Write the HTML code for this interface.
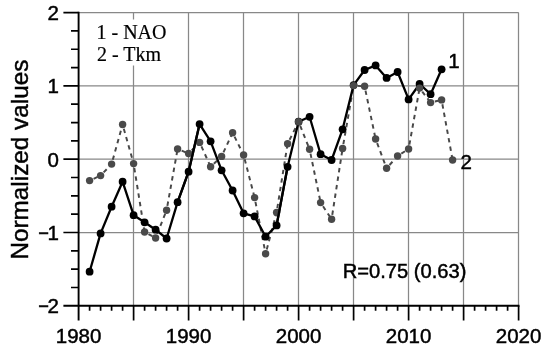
<!DOCTYPE html>
<html><head><meta charset="utf-8"><style>
html,body{margin:0;padding:0;background:#fff;}
body{width:550px;height:353px;overflow:hidden;}
svg{display:block;}
.s{font-family:'Liberation Sans',Arial,sans-serif;font-size:20.5px;fill:#000;stroke:#000;stroke-width:0.45px;}
.r{font-family:'Liberation Serif','Times New Roman',serif;font-size:20px;fill:#000;stroke:#000;stroke-width:0.2px;}
</style></head><body>
<svg width="550" height="353" viewBox="0 0 550 353">
<rect width="550" height="353" fill="#fff"/>
<path d="M133.50 12.60V305.80M188.50 12.60V305.80M243.50 12.60V305.80M298.50 12.60V305.80M353.50 12.60V305.80M408.50 12.60V305.80M463.50 12.60V305.80M518.50 12.60V305.80M78.60 12.60H518.60M78.60 85.90H518.60M78.60 159.20H518.60M78.60 232.50H518.60" stroke="#888888" stroke-width="1.25" fill="none"/>
<rect x="92" y="19.5" width="80" height="46" fill="#fff"/>
<path d="M78.60 11.70V320.5M63.4 305.80H519.50" stroke="#000" stroke-width="1.9" fill="none"/>
<path d="M71 287.48H78.60M71 269.15H78.60M71 250.82H78.60M63.4 232.50H78.60M71 214.17H78.60M71 195.85H78.60M71 177.52H78.60M63.4 159.20H78.60M71 140.88H78.60M71 122.55H78.60M71 104.22H78.60M63.4 85.90H78.60M71 67.57H78.60M71 49.25H78.60M71 30.92H78.60M63.4 12.60H78.60M89.60 305.80V310.8M100.60 305.80V310.8M111.60 305.80V310.8M122.60 305.80V310.8M133.60 305.80V320.5M144.60 305.80V310.8M155.60 305.80V310.8M166.60 305.80V310.8M177.60 305.80V310.8M188.60 305.80V320.5M199.60 305.80V310.8M210.60 305.80V310.8M221.60 305.80V310.8M232.60 305.80V310.8M243.60 305.80V320.5M254.60 305.80V310.8M265.60 305.80V310.8M276.60 305.80V310.8M287.60 305.80V310.8M298.60 305.80V320.5M309.60 305.80V310.8M320.60 305.80V310.8M331.60 305.80V310.8M342.60 305.80V310.8M353.60 305.80V320.5M364.60 305.80V310.8M375.60 305.80V310.8M386.60 305.80V310.8M397.60 305.80V310.8M408.60 305.80V320.5M419.60 305.80V310.8M430.60 305.80V310.8M441.60 305.80V310.8M452.60 305.80V310.8M463.60 305.80V320.5M474.60 305.80V310.8M485.60 305.80V310.8M496.60 305.80V310.8M507.60 305.80V310.8M518.60 305.80V320.5" stroke="#000" stroke-width="1.7" fill="none"/>
<g stroke="#484848" stroke-width="1.95" fill="none" stroke-dasharray="4.4 4.2" stroke-dashoffset="4.2"><line x1="89.60" y1="180.60" x2="100.60" y2="175.60"/><line x1="100.60" y1="175.60" x2="111.60" y2="164.10"/><line x1="111.60" y1="164.10" x2="122.60" y2="124.50"/><line x1="122.60" y1="124.50" x2="133.60" y2="163.60"/><line x1="133.60" y1="163.60" x2="144.60" y2="232.00"/><line x1="144.60" y1="232.00" x2="155.60" y2="238.00"/><line x1="155.60" y1="238.00" x2="166.60" y2="210.20"/><line x1="166.60" y1="210.20" x2="177.60" y2="149.00"/><line x1="177.60" y1="149.00" x2="188.60" y2="153.50"/><line x1="188.60" y1="153.50" x2="199.60" y2="142.40"/><line x1="199.60" y1="142.40" x2="210.60" y2="166.70"/><line x1="210.60" y1="166.70" x2="221.60" y2="156.40"/><line x1="221.60" y1="156.40" x2="232.60" y2="132.70"/><line x1="232.60" y1="132.70" x2="243.60" y2="155.00"/><line x1="243.60" y1="155.00" x2="254.60" y2="197.60"/><line x1="254.60" y1="197.60" x2="265.60" y2="253.70"/><line x1="265.60" y1="253.70" x2="276.60" y2="212.50"/><line x1="276.60" y1="212.50" x2="287.60" y2="143.70"/><line x1="287.60" y1="143.70" x2="298.60" y2="121.70"/><line x1="298.60" y1="121.70" x2="309.60" y2="149.30"/><line x1="309.60" y1="149.30" x2="320.60" y2="202.60"/><line x1="320.60" y1="202.60" x2="331.60" y2="219.20"/><line x1="331.60" y1="219.20" x2="342.60" y2="148.50"/><line x1="342.60" y1="148.50" x2="353.60" y2="85.60"/><line x1="353.60" y1="85.60" x2="364.60" y2="86.30"/><line x1="364.60" y1="86.30" x2="375.60" y2="139.00"/><line x1="375.60" y1="139.00" x2="386.60" y2="168.30"/><line x1="386.60" y1="168.30" x2="397.60" y2="156.00"/><line x1="397.60" y1="156.00" x2="408.60" y2="149.00"/><line x1="408.60" y1="149.00" x2="419.60" y2="88.10"/><line x1="419.60" y1="88.10" x2="430.60" y2="102.60"/><line x1="430.60" y1="102.60" x2="441.60" y2="99.90"/><line x1="441.60" y1="99.90" x2="452.60" y2="160.00"/></g>
<polyline points="89.60,271.70 100.60,233.40 111.60,206.70 122.60,181.70 133.60,215.20 144.60,222.30 155.60,229.70 166.60,238.50 177.60,202.20 188.60,171.70 199.60,124.10 210.60,141.30 221.60,170.30 232.60,190.50 243.60,213.30 254.60,216.40 265.60,236.70 276.60,225.40 287.60,166.80 298.60,121.70 309.60,116.80 320.60,154.20 331.60,160.00 342.60,129.30 353.60,85.10 364.60,70.00 375.60,65.40 386.60,77.90 397.60,72.00 408.60,99.40 419.60,84.00 430.60,94.20 441.60,69.30" stroke="#000" stroke-width="2.3" fill="none" stroke-linejoin="round"/>
<g fill="#000"><circle cx="89.60" cy="271.70" r="3.9"/><circle cx="100.60" cy="233.40" r="3.9"/><circle cx="111.60" cy="206.70" r="3.9"/><circle cx="122.60" cy="181.70" r="3.9"/><circle cx="133.60" cy="215.20" r="3.9"/><circle cx="144.60" cy="222.30" r="3.9"/><circle cx="155.60" cy="229.70" r="3.9"/><circle cx="166.60" cy="238.50" r="3.9"/><circle cx="177.60" cy="202.20" r="3.9"/><circle cx="188.60" cy="171.70" r="3.9"/><circle cx="199.60" cy="124.10" r="3.9"/><circle cx="210.60" cy="141.30" r="3.9"/><circle cx="221.60" cy="170.30" r="3.9"/><circle cx="232.60" cy="190.50" r="3.9"/><circle cx="243.60" cy="213.30" r="3.9"/><circle cx="254.60" cy="216.40" r="3.9"/><circle cx="265.60" cy="236.70" r="3.9"/><circle cx="276.60" cy="225.40" r="3.9"/><circle cx="287.60" cy="166.80" r="3.9"/><circle cx="298.60" cy="121.70" r="3.9"/><circle cx="309.60" cy="116.80" r="3.9"/><circle cx="320.60" cy="154.20" r="3.9"/><circle cx="331.60" cy="160.00" r="3.9"/><circle cx="342.60" cy="129.30" r="3.9"/><circle cx="353.60" cy="85.10" r="3.9"/><circle cx="364.60" cy="70.00" r="3.9"/><circle cx="375.60" cy="65.40" r="3.9"/><circle cx="386.60" cy="77.90" r="3.9"/><circle cx="397.60" cy="72.00" r="3.9"/><circle cx="408.60" cy="99.40" r="3.9"/><circle cx="419.60" cy="84.00" r="3.9"/><circle cx="430.60" cy="94.20" r="3.9"/><circle cx="441.60" cy="69.30" r="3.9"/></g>
<g fill="#4a4a4a"><circle cx="89.60" cy="180.60" r="3.7"/><circle cx="100.60" cy="175.60" r="3.7"/><circle cx="111.60" cy="164.10" r="3.7"/><circle cx="122.60" cy="124.50" r="3.7"/><circle cx="133.60" cy="163.60" r="3.7"/><circle cx="144.60" cy="232.00" r="3.7"/><circle cx="155.60" cy="238.00" r="3.7"/><circle cx="166.60" cy="210.20" r="3.7"/><circle cx="177.60" cy="149.00" r="3.7"/><circle cx="188.60" cy="153.50" r="3.7"/><circle cx="199.60" cy="142.40" r="3.7"/><circle cx="210.60" cy="166.70" r="3.7"/><circle cx="221.60" cy="156.40" r="3.7"/><circle cx="232.60" cy="132.70" r="3.7"/><circle cx="243.60" cy="155.00" r="3.7"/><circle cx="254.60" cy="197.60" r="3.7"/><circle cx="265.60" cy="253.70" r="3.7"/><circle cx="276.60" cy="212.50" r="3.7"/><circle cx="287.60" cy="143.70" r="3.7"/><circle cx="298.60" cy="121.70" r="3.7"/><circle cx="309.60" cy="149.30" r="3.7"/><circle cx="320.60" cy="202.60" r="3.7"/><circle cx="331.60" cy="219.20" r="3.7"/><circle cx="342.60" cy="148.50" r="3.7"/><circle cx="353.60" cy="85.60" r="3.7"/><circle cx="364.60" cy="86.30" r="3.7"/><circle cx="375.60" cy="139.00" r="3.7"/><circle cx="386.60" cy="168.30" r="3.7"/><circle cx="397.60" cy="156.00" r="3.7"/><circle cx="408.60" cy="149.00" r="3.7"/><circle cx="419.60" cy="88.10" r="3.7"/><circle cx="430.60" cy="102.60" r="3.7"/><circle cx="441.60" cy="99.90" r="3.7"/><circle cx="452.60" cy="160.00" r="3.7"/></g>
<line x1="276.60" y1="225.40" x2="287.60" y2="166.80" stroke="#000" stroke-width="2.3"/>
<line x1="177.60" y1="202.20" x2="188.60" y2="171.70" stroke="#000" stroke-width="2.3"/>
<line x1="188.60" y1="171.70" x2="199.60" y2="124.10" stroke="#000" stroke-width="2.3"/>
<text x="59" y="20.10" text-anchor="end" class="s">2</text>
<text x="59" y="93.40" text-anchor="end" class="s">1</text>
<text x="59" y="166.70" text-anchor="end" class="s">0</text>
<text x="59" y="240.00" text-anchor="end" class="s">1</text>
<text x="38.2" y="240.00" textLength="10.7" lengthAdjust="spacingAndGlyphs" class="s" style="stroke-width:0.5px">−</text>
<text x="59" y="313.30" text-anchor="end" class="s">2</text>
<text x="38.2" y="313.30" textLength="10.7" lengthAdjust="spacingAndGlyphs" class="s" style="stroke-width:0.5px">−</text>
<text x="78.60" y="343.1" text-anchor="middle" class="s">1980</text>
<text x="188.60" y="343.1" text-anchor="middle" class="s">1990</text>
<text x="298.60" y="343.1" text-anchor="middle" class="s">2000</text>
<text x="408.60" y="343.1" text-anchor="middle" class="s">2010</text>
<text x="518.60" y="343.1" text-anchor="middle" class="s">2020</text>
<text x="27.6" y="159.6" text-anchor="middle" transform="rotate(-90 27.6 159.6)" class="s" style="font-size:24.3px">Normalized values</text>
<text x="96.5" y="39.3" class="r">1 - NAO</text>
<text x="96.9" y="61.3" class="r">2 - Tkm</text>
<text x="448.2" y="67.8" class="s">1</text>
<text x="460.5" y="169.3" class="s">2</text>
<text x="342.7" y="278.0" class="s" style="font-size:20.15px">R=0.75 (0.63)</text>
</svg>
</body></html>
